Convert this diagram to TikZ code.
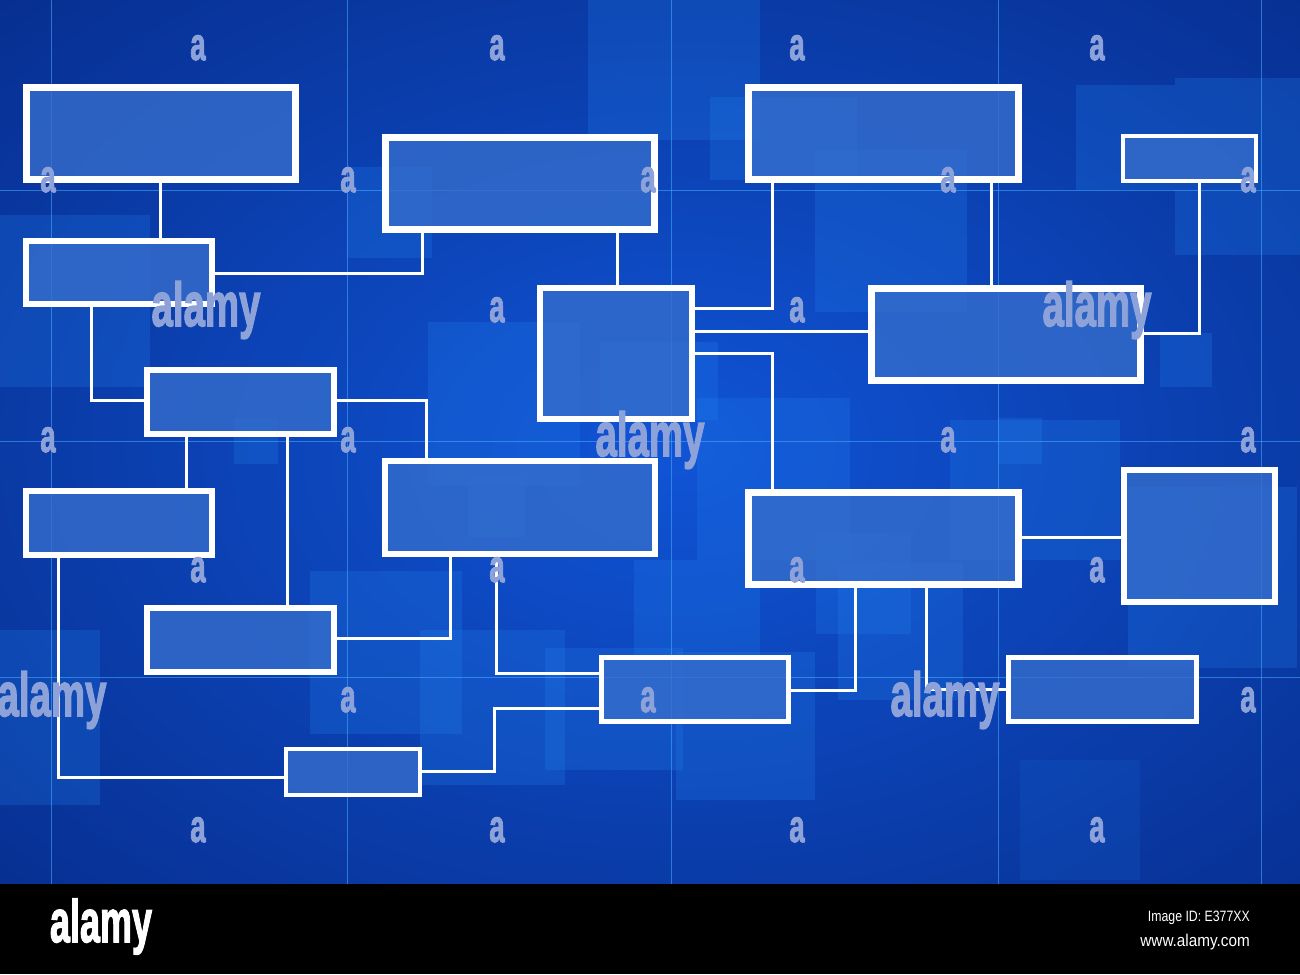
\documentclass[tikz,border=0pt]{standalone}
\usepackage{graphicx}
\usepackage{fontspec}
\setmainfont{Liberation Sans}
\newfontfamily\heavyfont[BoldFeatures={FakeBold=2.5}]{Liberation Sans}
\definecolor{bgin}{RGB}{16,84,214}
\definecolor{bgout}{RGB}{4,34,120}
\definecolor{boxfill}{RGB}{54,110,204}
\definecolor{sq}{RGB}{34,130,240}
\definecolor{gridc}{RGB}{70,175,255}
\definecolor{wm}{RGB}{142,162,218}
\tikzset{
  box/.style={draw=white, fill=boxfill, fill opacity=0.78, draw opacity=1, inner sep=0pt, outer sep=0pt, line join=miter},
  link/.style={draw=white, line width=3pt, line join=miter},
  sqr/.style={fill=sq, fill opacity=0.24},
  gridl/.style={draw=gridc, line width=1pt, draw opacity=0.55},
  wma/.style={text=wm, inner sep=0pt, anchor=base},
  foot/.style={text=white, inner sep=0pt}
}
\newcommand{\wmA}{\scalebox{0.6}[1]{\fontsize{46}{46}\heavyfont\bfseries a}}
\newcommand{\wmAlamy}{\scalebox{0.62}[1]{\fontsize{62}{62}\heavyfont\bfseries alamy}}
\begin{document}
\begin{tikzpicture}[x=1pt,y=-1pt]
\useasboundingbox (0,0) rectangle (1300,974);
% background
\begin{scope}
\clip (0,0) rectangle (1300,884);
\shade[inner color=bgin, outer color=bgout] (-600,-420) rectangle (1950,1320);
% translucent squares
\fill[sqr] (710,97) rectangle (857,180);
\fill[sqr] (815,150) rectangle (967,312);
\fill[sqr] (428,322) rectangle (580,486);
\fill[sqr] (600,342) rectangle (718,420);
\fill[sqr] (697,398) rectangle (850,560);
\fill[sqr] (468,478) rectangle (525,537);
\fill[sqr] (234,418) rectangle (278,464);
\fill[sqr] (998,418) rectangle (1042,464);
\fill[sqr] (816,533) rectangle (911,634);
\fill[sqr] (838,563) rectangle (963,700);
\fill[sqr] (310,571) rectangle (462,734);
\fill[sqr] (420,630) rectangle (565,785);
\fill[sqr] (545,648) rectangle (683,770);
\fill[sqr] (676,652) rectangle (815,800);
\fill[sqr] (634,560) rectangle (760,660);
\fill[sqr] (1128,487) rectangle (1297,668);
\fill[sqr] (1076,85) rectangle (1175,190);
\fill[sqr] (1175,78) rectangle (1300,255);
\fill[sqr] (1160,333) rectangle (1212,387);
\fill[sqr] (0,215) rectangle (150,387);
\fill[sqr] (0,630) rectangle (100,805);
\fill[sqr] (347,167) rectangle (432,258);
\fill[sqr] (588,0) rectangle (760,140);
\fill[sqr, fill opacity=0.12] (1020,760) rectangle (1140,880);
\fill[sqr] (950,420) rectangle (1120,560);
% grid lines
\foreach \gx in {51,347,671,998,1261} \draw[gridl] (\gx,0) -- (\gx,884);
\foreach \gy in {190,441,677} \draw[gridl] (0,\gy) -- (1300,\gy);
\end{scope}
% boxes
\node[box, line width=7pt, minimum width=269pt, minimum height=92pt] (B1) at (161,133.5) {};
\node[box, line width=7pt, minimum width=269pt, minimum height=92pt] (B2) at (520,183.5) {};
\node[box, line width=7pt, minimum width=270pt, minimum height=92pt] (B3) at (883.5,133.5) {};
\node[box, line width=4pt, minimum width=133pt, minimum height=45pt] (B4) at (1189.5,158.5) {};
\node[box, line width=6pt, minimum width=186pt, minimum height=63pt] (B5) at (119,272.5) {};
\node[box, line width=6pt, minimum width=152pt, minimum height=131pt] (B6) at (616,353.5) {};
\node[box, line width=7pt, minimum width=269pt, minimum height=92pt] (B7) at (1006,334.5) {};
\node[box, line width=6pt, minimum width=187pt, minimum height=64pt] (B8) at (240.5,402) {};
\node[box, line width=6pt, minimum width=186pt, minimum height=64pt] (B9) at (119,523) {};
\node[box, line width=6pt, minimum width=270pt, minimum height=93pt] (B10) at (520,507.5) {};
\node[box, line width=7pt, minimum width=270pt, minimum height=92pt] (B11) at (883.5,538.5) {};
\node[box, line width=6pt, minimum width=151pt, minimum height=132pt] (B12) at (1199.5,536) {};
\node[box, line width=6pt, minimum width=187pt, minimum height=64pt] (B13) at (240.5,640) {};
\node[box, line width=5pt, minimum width=187pt, minimum height=64pt] (B14) at (695,689.5) {};
\node[box, line width=5pt, minimum width=188pt, minimum height=64pt] (B15) at (1102.5,689.5) {};
\node[box, line width=4pt, minimum width=134pt, minimum height=46pt] (B16) at (353,772) {};
% connectors
\draw[link] (B1.south -| 160,0) -- (B5.north -| 160,0);
\draw[link] (B5.east |- 0,273) -| (B2.south -| 422,0);
\draw[link] (B5.south -| 91,0) |- (B8.west |- 0,400);
\draw[link] (B8.east |- 0,400) -| (B10.north -| 426,0);
\draw[link] (B8.south -| 186,0) -- (B9.north -| 186,0);
\draw[link] (B8.south -| 287,0) -- (B13.north -| 287,0);
\draw[link] (B2.south -| 617,0) -- (B6.north -| 617,0);
\draw[link] (B6.east |- 0,308) -| (B3.south -| 772,0);
\draw[link] (B6.east |- 0,331) -- (B7.west |- 0,331);
\draw[link] (B6.east |- 0,353) -| (B11.north -| 772,0);
\draw[link] (B3.south -| 991,0) -- (B7.north -| 991,0);
\draw[link] (B4.south -| 1199,0) |- (B7.east |- 0,333);
\draw[link] (B9.south -| 58,0) |- (B16.west |- 0,777);
\draw[link] (B13.east |- 0,638) -| (B10.south -| 450,0);
\draw[link] (B10.south -| 496,0) |- (B14.west |- 0,673);
\draw[link] (B16.east |- 0,771) -| (494,708) -- (B14.west |- 0,708);
\draw[link] (B14.east |- 0,690) -| (B11.south -| 855,0);
\draw[link] (B11.south -| 926,0) |- (B15.west |- 0,689);
\draw[link] (B11.east |- 0,537) -- (B12.west |- 0,537);
% watermarks
\foreach \wx/\wy [count=\i] in {198/48,497/48,797/48,1097/48,
  48/180,348/180,648/180,948/180,1248/180,
  497/310,797/310,
  48/440,348/440,948/440,1248/440,
  198/570,497/570,797/570,1097/570,
  348/700,648/700,1248/700,
  198/830,497/830,797/830,1097/830}
  \node[wma, name=wa\i] at (\wx,\wy+12) {\wmA};
\foreach \wx/\wy [count=\i] in {206/310,1097/310,650/440,52/700,945/700}
  \node[wma, name=wb\i] at (\wx,\wy+16) {\wmAlamy};
% footer
\fill[black] (0,884) rectangle (1300,974);
\node[foot, anchor=base] (logo) at (101,942) {\scalebox{0.6}[1]{\fontsize{60}{60}\heavyfont\bfseries alamy}};
\node[foot, anchor=base east] (imgid) at (1250,921) {\scalebox{0.82}[1]{\fontsize{15}{15}\selectfont Image ID: E377XX}};
\node[foot, anchor=base east] (web) at (1250,946) {\scalebox{0.9}[1]{\fontsize{17}{17}\selectfont www.alamy.com}};
\end{tikzpicture}
\end{document}
